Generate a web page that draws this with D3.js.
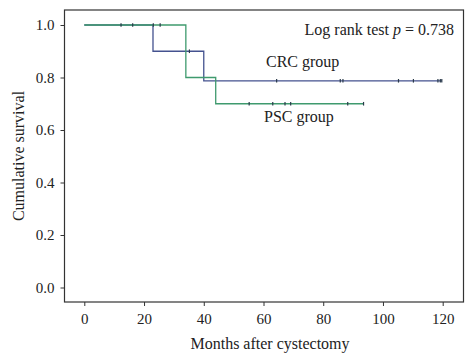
<!DOCTYPE html>
<html>
<head>
<meta charset="utf-8">
<script src="https://cdn.jsdelivr.net/npm/d3@7"></script>
<style>
  body { margin:0; background:#fff; }
  text { font-family: "Liberation Serif", "DejaVu Serif", serif; fill:#222; }
</style>
</head>
<body>
<div id="chart"></div>
<script>
// survival steps: time of event and survival after it
var crcStepTimes = [0, 23, 40];
var crcStepValues = [1, 0.9, 0.7875];
var crcEnd = 119.7;
var crcCensored = [35.2, 64.4, 85.7, 86.6, 105.2, 110.2, 118.4, 119.2, 119.7];

var pscStepTimes = [0, 34, 44];
var pscStepValues = [1, 0.8, 0.7];
var pscEnd = 93.5;
var pscCensored = [12.3, 16.2, 23.1, 25.4, 55.2, 63.1, 67.2, 69.1, 88.2, 93.5];

var xTicks = [0, 20, 40, 60, 80, 100, 120];
var yTicks = [0, 0.2, 0.4, 0.6, 0.8, 1.0];

var W = 474, H = 363;
var frame = {left:64.5, top:10, right:463.5, bottom:302};

var svg = d3.select('#chart').append('svg')
  .attr('width', W).attr('height', H);

var x = d3.scaleLinear().domain([0, 120]).range([84.3, 442.7]);
var y = d3.scaleLinear().domain([0, 1]).range([287.5, 25]);

// frame
svg.append('rect')
  .attr('x', frame.left).attr('y', frame.top)
  .attr('width', frame.right - frame.left)
  .attr('height', frame.bottom - frame.top)
  .style('fill', 'none').style('stroke', '#333').style('stroke-width', 1.2);

var xAxis = svg.append('g')
  .attr('transform', 'translate(0,' + frame.bottom + ')')
  .call(d3.axisBottom(x).tickValues(xTicks).tickSize(4).tickPadding(7).tickFormat(d3.format('d')));
xAxis.select('.domain').remove();
xAxis.selectAll('text').style('font-size', '15px').style('font-family', '"Liberation Serif", serif').attr('fill', '#222');
xAxis.selectAll('line').attr('stroke', '#333');

var yAxis = svg.append('g')
  .attr('transform', 'translate(' + frame.left + ',0)')
  .call(d3.axisLeft(y).tickValues(yTicks).tickSize(4).tickPadding(6).tickFormat(d3.format('.1f')));
yAxis.select('.domain').remove();
yAxis.selectAll('text').style('font-size', '15px').style('font-family', '"Liberation Serif", serif').attr('fill', '#222');
yAxis.selectAll('line').attr('stroke', '#333');

svg.append('text')
  .attr('x', 270)
  .attr('y', 349)
  .attr('text-anchor', 'middle')
  .style('font-size', '16px')
  .text('Months after cystectomy');

svg.append('text')
  .attr('transform', 'translate(24,' + ((frame.top + frame.bottom) / 2) + ') rotate(-90)')
  .attr('text-anchor', 'middle')
  .style('font-size', '16px')
  .text('Cumulative survival');

function stepPoints(times, values, end) {
  var pts = [];
  for (var i = 0; i < times.length; i++) {
    var next = i + 1 < times.length ? times[i + 1] : end;
    pts.push([times[i], values[i]]);
    pts.push([next, values[i]]);
  }
  return pts;
}

function survAt(times, values, t) {
  var s = values[0];
  for (var i = 0; i < times.length; i++) {
    if (times[i] <= t) s = values[i];
  }
  return s;
}

var line = d3.line().x(function(d){ return x(d[0]); }).y(function(d){ return y(d[1]); });

function drawGroup(times, values, end, censored, color) {
  var g = svg.append('g');
  g.append('path')
    .datum(stepPoints(times, values, end))
    .attr('d', line)
    .style('fill', 'none')
    .style('stroke', color)
    .style('stroke-width', 1.3);
  g.selectAll('line.censor')
    .data(censored)
    .enter().append('line')
    .attr('class', 'censor')
    .attr('x1', function(d){ return x(d); })
    .attr('x2', function(d){ return x(d); })
    .attr('y1', function(d){ return y(survAt(times, values, d)) - 1.8; })
    .attr('y2', function(d){ return y(survAt(times, values, d)) + 1.8; })
    .style('stroke', '#2a3a4a')
    .style('stroke-width', 1.2);
}

drawGroup(crcStepTimes, crcStepValues, crcEnd, crcCensored, '#44528f');
drawGroup(pscStepTimes, pscStepValues, pscEnd, pscCensored, '#3f9a6e');

svg.append('text')
  .attr('x', 454).attr('y', 35)
  .attr('text-anchor', 'end')
  .style('font-size', '16px')
  .html('Log rank test <tspan font-style="italic">p</tspan> = 0.738');

svg.append('text')
  .attr('x', 266).attr('y', 66.5)
  .style('font-size', '16px')
  .text('CRC group');

svg.append('text')
  .attr('x', 264).attr('y', 122)
  .style('font-size', '16px')
  .text('PSC group');
</script>
</body>
</html>
